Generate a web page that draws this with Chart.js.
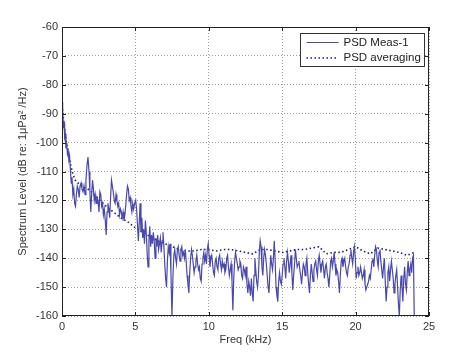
<!DOCTYPE html>
<html>
<head>
<meta charset="utf-8">
<script src="https://cdn.jsdelivr.net/npm/chart.js@4/dist/chart.umd.min.js"></script>
<style>
html,body{margin:0;padding:0;background:#fff;}
#wrap{width:474px;height:355px;position:relative;}
</style>
</head>
<body>
<div id="wrap"><canvas id="c" width="474" height="355"></canvas></div>
<script>
// ---- Data ----
const seriesNames = ["PSD Meas-1", "PSD averaging"];
const xTicks = [0, 5, 10, 15, 20, 25];
const yTicks = [-160, -150, -140, -130, -120, -110, -100, -90, -80, -70, -60];

const measFreq = [0.00,0.03,0.06,0.10,0.14,0.18,0.22,0.27,0.32,0.37,0.42,0.47,0.52,0.58,0.63,0.68,0.74,0.80,0.86,0.92,0.98,
1.04,1.10,1.17,1.23,1.30,1.36,1.43,1.50,1.57,1.63,1.70,1.77,1.84,1.90,1.96,2.02,2.08,2.14,2.20,2.26,2.32,2.38,2.45,2.52,2.58,2.64,2.70,2.76,2.82,2.88,2.95,
3.01,3.07,3.13,3.19,3.25,3.31,3.37,3.43,3.49,3.56,3.62,3.68,3.74,3.80,3.86,3.92,3.98,4.04,4.10,4.16,4.22,4.28,4.34,4.40,4.46,4.52,4.58,4.64,4.70,4.76,4.82,4.88,4.95,
5.02,5.08,5.14,5.20,5.26,5.32,5.38,5.44,5.50,5.56,5.62,5.68,5.74,5.80,5.86,5.92,5.98,6.04,6.10,6.16,6.22,6.28,6.34,6.40,6.46,6.52,6.58,6.64,6.70,6.76,6.82,6.88,6.94,
7.00,7.06,7.12,7.18,7.24,7.30,7.36,7.42,7.49,7.56,7.62,7.68,7.74,7.80,7.86,7.92,7.98,8.04,8.10,8.16,8.22,8.28,8.34,8.40,8.46,8.52,8.58,8.64,8.70,8.76,8.82,8.88,8.94,
9.00,9.06,9.12,9.18,9.24,9.30,9.36,9.42,9.48,9.54,9.60,9.66,9.72,9.78,9.84,9.90,9.96,10.02,10.08,10.14,10.20,10.26,10.32,10.38,10.44,10.50,10.56,10.62,10.68,10.74,10.80,10.86,10.92,10.98,
11.04,11.10,11.16,11.22,11.28,11.34,11.40,11.46,11.52,11.58,11.64,11.70,11.76,11.82,11.88,11.94,12.00,12.06,12.12,12.18,12.24,12.30,12.36,12.42,12.48,12.54,12.60,12.66,12.72,12.78,12.84,12.90,12.96,
13.02,13.08,13.14,13.20,13.26,13.32,13.38,13.44,13.50,13.56,13.62,13.68,13.74,13.80,13.86,13.92,13.98,14.04,14.10,14.16,14.22,14.28,14.34,14.40,14.46,14.52,14.58,14.64,14.70,14.76,14.82,14.88,14.94,
15.00,15.06,15.12,15.18,15.24,15.30,15.36,15.42,15.48,15.54,15.60,15.66,15.72,15.78,15.84,15.90,15.96,16.02,16.08,16.14,16.20,16.26,16.32,16.38,16.44,16.50,16.56,16.62,16.68,16.74,16.80,16.86,16.92,16.98,
17.04,17.10,17.16,17.22,17.28,17.34,17.40,17.46,17.52,17.58,17.64,17.70,17.76,17.82,17.88,17.94,18.00,18.06,18.12,18.18,18.24,18.30,18.36,18.42,18.48,18.54,18.60,18.66,18.72,18.78,18.84,18.90,18.96,
19.02,19.08,19.14,19.20,19.26,19.32,19.38,19.44,19.50,19.56,19.62,19.68,19.74,19.80,19.86,19.92,19.98,20.04,20.10,20.16,20.22,20.28,20.34,20.40,20.46,20.52,20.58,20.64,20.70,20.76,20.82,20.88,20.94,
21.00,21.06,21.12,21.18,21.24,21.30,21.36,21.42,21.48,21.54,21.60,21.66,21.72,21.78,21.84,21.90,21.96,22.02,22.08,22.14,22.20,22.26,22.32,22.38,22.44,22.50,22.56,22.62,22.68,22.74,22.80,22.86,22.92,22.98,
23.04,23.10,23.16,23.22,23.28,23.34,23.40,23.46,23.52,23.58,23.64,23.70,23.76,23.82,23.88,23.94,24.00];

const measLevel = [-86,-92,-89,-95,-93,-98,-97,-102,-100,-104,-103,-106,-105,-110,-114,-112,-118,-116,-121,-122,-118,
-115,-116,-119,-115,-114,-116,-117,-115,-118,-113,-108,-105,-110,-117,-124,-118,-113,-116,-120,-118,-121,-119,-120,-124,-117,-118,-122,-121,-125,-123,-127,
-132,-124,-121,-123,-126,-119,-113,-115,-117,-120,-121,-118,-120,-122,-121,-125,-123,-124,-126,-124,-127,-125,-122,-118,-115,-116,-120,-119,-122,-124,-121,-123,-121,
-120,-123,-128,-134,-128,-121,-131,-126,-133,-130,-135,-127,-131,-138,-143,-134,-129,-136,-132,-135,-131,-134,-140,-133,-136,-132,-137,-135,-133,-138,-134,-131,-136,
-142,-147,-150,-141,-136,-138,-135,-145,-160,-146,-139,-137,-140,-142,-137,-136,-139,-141,-137,-136,-139,-138,-140,-137,-141,-146,-149,-152,-145,-140,-137,-139,-142,
-145,-143,-141,-139,-142,-144,-143,-147,-148,-142,-140,-138,-141,-139,-142,-137,-135,-139,-143,-140,-139,-142,-145,-146,-141,-140,-143,-144,-140,-139,-142,-144,-141,-143,
-142,-145,-144,-140,-139,-143,-146,-144,-142,-148,-158,-147,-141,-138,-140,-142,-144,-143,-141,-142,-146,-147,-143,-144,-146,-143,-149,-152,-148,-150,-153,-147,-152,
-155,-146,-140,-144,-148,-150,-146,-138,-134,-136,-143,-146,-140,-137,-139,-142,-146,-150,-152,-145,-139,-142,-144,-140,-134,-141,-150,-153,-155,-148,-145,-148,-149,
-146,-142,-140,-143,-147,-141,-138,-141,-145,-142,-139,-145,-151,-146,-142,-137,-140,-143,-142,-141,-144,-146,-149,-145,-142,-143,-146,-142,-140,-145,-149,-152,-146,-142,
-145,-148,-144,-142,-141,-144,-146,-141,-139,-142,-145,-142,-141,-144,-147,-143,-142,-145,-147,-150,-146,-141,-140,-143,-141,-138,-142,-146,-144,-145,-148,-152,-146,
-141,-140,-143,-141,-140,-143,-145,-146,-143,-142,-139,-137,-140,-142,-138,-136,-140,-147,-145,-143,-146,-145,-143,-145,-147,-146,-144,-149,-151,-150,-149,-148,-146,
-147,-144,-141,-140,-143,-139,-136,-137,-141,-143,-138,-137,-141,-144,-147,-143,-140,-148,-155,-150,-145,-143,-148,-144,-141,-144,-147,-152,-149,-146,-144,-150,-156,-160,
-151,-146,-150,-155,-147,-143,-149,-151,-145,-141,-146,-144,-142,-145,-140,-139,-162];

const avgFreq = [0,0.15,0.3,0.45,0.6,0.75,0.9,1.1,1.3,1.5,1.75,2,2.5,3,3.5,4,4.5,5,5.5,6,6.5,7,7.5,8,8.5,9,9.5,10,10.5,11,11.5,12,12.5,13,13.5,14,14.5,15,15.5,16,16.5,17,17.5,18,18.5,19,19.5,20,20.5,21,21.5,22,22.5,23,23.5,24];
const avgLevel = [-87,-94,-100,-104,-108,-111,-113,-114,-115,-115.5,-116,-117,-119.5,-122,-124,-126,-127.5,-129.5,-131,-132.5,-134,-135,-136,-137,-137.5,-137.5,-137,-137,-137.5,-137,-137,-137.5,-138,-138.5,-137,-137,-137.5,-138,-137.5,-137,-137,-136.5,-136,-138.5,-138,-138,-137,-136,-137.5,-138.5,-136.5,-137,-137.5,-138,-139,-138];

// ---- Build datasets ----
const measPts = measFreq.map((f, i) => ({x: f, y: measLevel[i]}));
const avgPts = avgFreq.map((f, i) => ({x: f, y: avgLevel[i]}));

const FONT = "'Liberation Sans', Arial, sans-serif";

const frame = {
  id: 'frame',
  afterDraw(chart) {
    const {ctx, chartArea: a, scales} = chart;
    ctx.save();
    ctx.strokeStyle = '#222';
    ctx.lineWidth = 1;
    const L = 4;
    xTicks.forEach(v => {
      const px = Math.round(scales.x.getPixelForValue(v)) + 0.5;
      ctx.beginPath();
      ctx.moveTo(px, a.bottom); ctx.lineTo(px, a.bottom - L);
      ctx.moveTo(px, a.top); ctx.lineTo(px, a.top + L);
      ctx.stroke();
    });
    yTicks.forEach(v => {
      const py = Math.round(scales.y.getPixelForValue(v)) + 0.5;
      ctx.beginPath();
      ctx.moveTo(a.left, py); ctx.lineTo(a.left + L, py);
      ctx.moveTo(a.right, py); ctx.lineTo(a.right - L, py);
      ctx.stroke();
    });
    ctx.strokeRect(Math.round(a.left) + 0.5, Math.round(a.top) + 0.5, Math.round(a.right - a.left) - 1, Math.round(a.bottom - a.top) - 1);

    // legend
    const bx = 300.5, by = 33.5, bw = 124, bh = 33;
    ctx.fillStyle = '#fff';
    ctx.fillRect(bx, by, bw, bh);
    ctx.strokeStyle = '#333';
    ctx.strokeRect(bx, by, bw, bh);
    chart.data.datasets.forEach((ds, i) => {
      const yy = by + 9 + i * 15.5;
      ctx.strokeStyle = ds.borderColor;
      ctx.lineWidth = ds.borderWidth;
      ctx.setLineDash(ds.borderDash || []);
      ctx.beginPath();
      ctx.moveTo(bx + 6, yy); ctx.lineTo(bx + 38, yy);
      ctx.stroke();
      ctx.setLineDash([]);
      ctx.fillStyle = '#222';
      ctx.font = '11.5px ' + FONT;
      ctx.textBaseline = 'middle';
      ctx.textAlign = 'left';
      ctx.fillText(ds.label, bx + 43, yy);
    });
    ctx.restore();
  }
};

new Chart(document.getElementById('c'), {
  type: 'line',
  data: {
    datasets: [
      {label: seriesNames[0], data: measPts, borderColor: '#4848ad', borderWidth: 1.2, pointRadius: 0, tension: 0, fill: false},
      {label: seriesNames[1], data: avgPts, borderColor: '#1c1c7a', borderWidth: 1.6, borderDash: [1.5, 2.5], pointRadius: 0, tension: 0, fill: false}
    ]
  },
  options: {
    responsive: false,
    animation: false,
    layout: {padding: {top: 27, right: 45, left: 0, bottom: 0}},
    plugins: {legend: {display: false}, tooltip: {enabled: false}},
    scales: {
      x: {
        type: 'linear', min: 0, max: 25,
        afterBuildTicks: s => { s.ticks = xTicks.map(v => ({value: v})); },
        afterFit: s => { s.height = 39; },
        grid: {color: '#a0a0a0', lineWidth: 1, drawTicks: false},
        border: {display: false, dash: [1, 2]},
        ticks: {padding: 4, color: '#333', font: {family: FONT, size: 11}, maxRotation: 0},
        title: {display: true, text: 'Freq (kHz)', color: '#333', font: {family: FONT, size: 11}, padding: {top: 0, bottom: 8}}
      },
      y: {
        type: 'linear', min: -160, max: -60,
        afterBuildTicks: s => { s.ticks = yTicks.map(v => ({value: v})); },
        afterFit: s => { s.width = 62; },
        grid: {color: '#a0a0a0', lineWidth: 1, drawTicks: false},
        border: {display: false, dash: [1, 2]},
        ticks: {padding: 4, color: '#333', font: {family: FONT, size: 11}},
        title: {display: true, text: 'Spectrum Level (dB re: 1μPa² /Hz)', color: '#333', font: {family: FONT, size: 11}, padding: {top: 16, bottom: 0}}
      }
    }
  },
  plugins: [frame]
});
</script>
</body>
</html>
